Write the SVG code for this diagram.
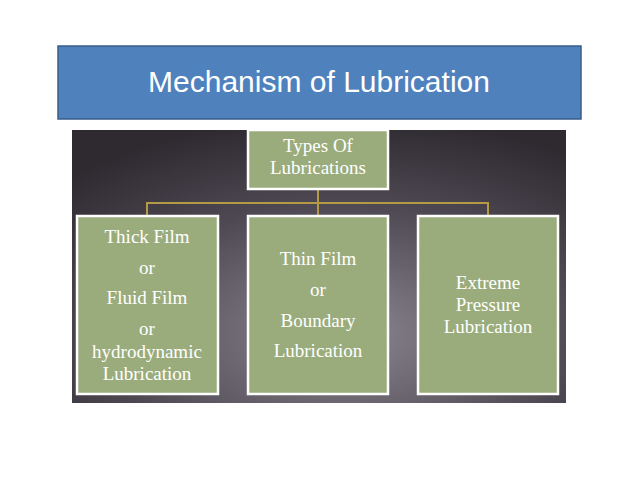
<svg xmlns="http://www.w3.org/2000/svg" width="638" height="493" viewBox="0 0 638 493">
<defs>
<radialGradient id="bg" cx="0.55" cy="0.75" r="0.8">
<stop offset="0" stop-color="#8a8590"/><stop offset="0.6" stop-color="#4e4852"/><stop offset="1" stop-color="#2e2a30"/>
</radialGradient>
<style>
.b{fill:#9aac7c;stroke:#fff;stroke-width:2.5}
.t{font-family:"Liberation Serif",serif;font-size:19px;fill:#fff;text-anchor:middle}
.c{stroke:#b59a45;stroke-width:2;fill:none}
</style>
</defs>
<rect width="638" height="493" fill="#fff"/>
<g id="header">
<rect x="58" y="46" width="523" height="73" fill="#4f81bd" stroke="#385d8a" stroke-width="1.5"/>
<text x="319" y="92" font-family="Liberation Sans,sans-serif" font-size="30" fill="#fff" text-anchor="middle">Mechanism of Lubrication</text>
</g>
<rect x="72" y="130" width="494" height="273" fill="url(#bg)"/>
<g id="connectors">
<path class="c" d="M318 189V216M147 216V203H488V216"/>
</g>
<g id="root">
<rect class="b" x="248" y="130" width="140" height="59"/>
<text class="t" x="318" y="152">Types Of</text>
<text class="t" x="318" y="174">Lubrications</text>
</g>
<g id="thick">
<rect class="b" x="77" y="216" width="141" height="178"/>
<text class="t" x="147" y="243">Thick Film</text>
<text class="t" x="147" y="274">or</text>
<text class="t" x="147" y="304">Fluid Film</text>
<text class="t" x="147" y="335">or</text>
<text class="t" x="147" y="358">hydrodynamic</text>
<text class="t" x="147" y="380">Lubrication</text>
</g>
<g id="thin">
<rect class="b" x="248" y="216" width="140" height="178"/>
<text class="t" x="318" y="265">Thin Film</text>
<text class="t" x="318" y="296">or</text>
<text class="t" x="318" y="327">Boundary</text>
<text class="t" x="318" y="357">Lubrication</text>
</g>
<g id="extreme">
<rect class="b" x="418" y="216" width="140" height="178"/>
<text class="t" x="488" y="289">Extreme</text>
<text class="t" x="488" y="311">Pressure</text>
<text class="t" x="488" y="333">Lubrication</text>
</g>
</svg>
